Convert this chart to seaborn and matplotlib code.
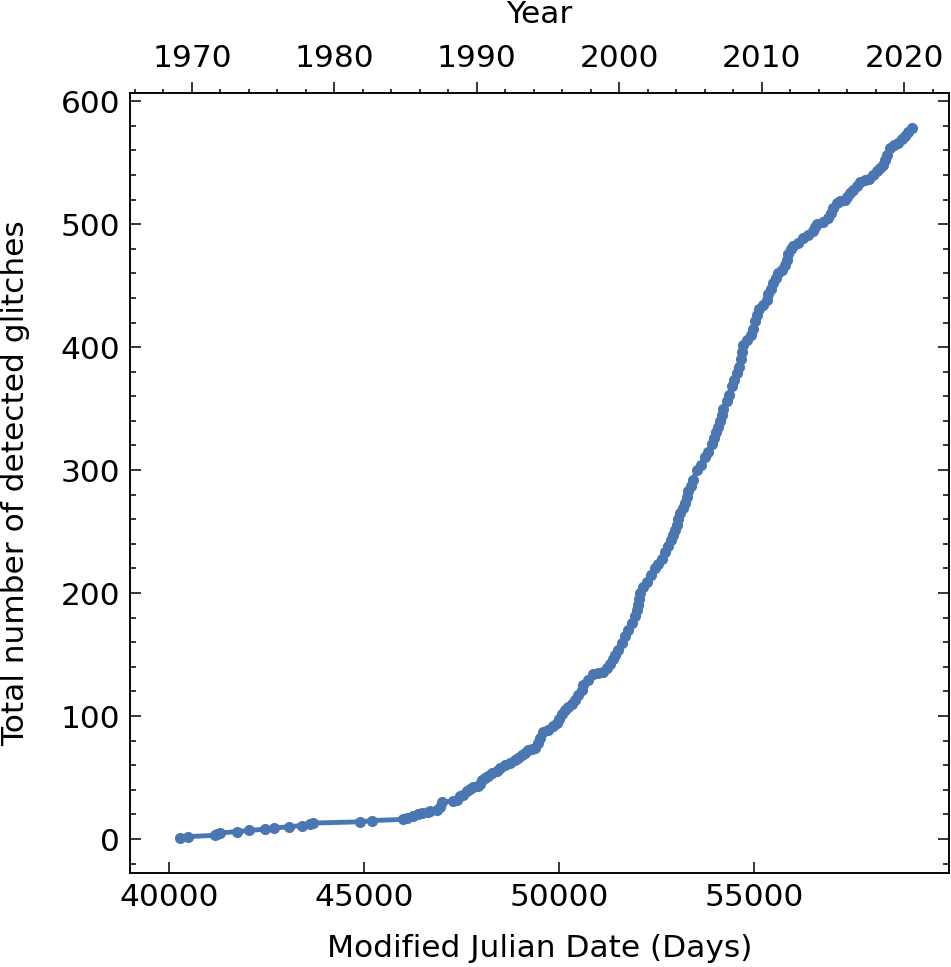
import numpy as np
import pandas as pd
import matplotlib
matplotlib.use("Agg")
import matplotlib.pyplot as plt
from matplotlib.ticker import MultipleLocator
import seaborn as sns

# Glitch epochs (MJD) and cumulative count
mjd = [40282, 40495, 41179, 41239, 41308, 41735, 42051, 42462, 42692, 43085,
       43402, 43615, 43701, 44897, 45213, 45992, 46094, 46264, 46393, 46479,
       46650, 46692, 46863, 46949, 46991, 47291, 47376, 47461, 47547, 47632,
       47718, 47803, 47931, 47974, 48018, 48103, 48188, 48273, 48402, 48487,
       48615, 48744, 48872, 48957, 49043, 49128, 49214, 49299, 49385, 49470,
       49513, 49598, 49726, 49855, 49940, 50008, 50068, 50154, 50239, 50325,
       50410, 50496, 50581, 50624, 50752, 50881, 51009, 51137, 51222, 51308,
       51376, 51436, 51521, 51607, 51692, 51778, 51863, 51949, 52009, 52034,
       52060, 52077, 52163, 52248, 52351, 52462, 52547, 52633, 52718, 52804,
       52872, 52932, 52975, 53017, 53060, 53103, 53171, 53231, 53274, 53316,
       53376, 53444, 53530, 53633, 53744, 53829, 53915, 53975, 54026, 54086,
       54128, 54171, 54214, 54299, 54368, 54428, 54487, 54556, 54624, 54658,
       54693, 54727, 54829, 54915, 54983, 55026, 55069, 55137, 55240, 55325,
       55368, 55427, 55496, 55564, 55624, 55709, 55795, 55838, 55880, 55940,
       56009, 56137, 56265, 56393, 56504, 56564, 56624, 56778, 56906, 56966,
       57034, 57120, 57205, 57333, 57393, 57462, 57547, 57632, 57718, 57846,
       57957, 58060, 58145, 58231, 58299, 58359, 58419, 58487, 58590, 58701,
       58786, 58872, 58957, 59043]
count = [1, 2, 3, 4, 5, 6, 7, 8, 9, 10,
         11, 12, 13, 14, 15, 16, 17, 19, 20, 21,
         22, 23, 24, 26, 30, 31, 32, 35, 36, 39,
         41, 42, 43, 45, 48, 50, 51, 54, 55, 58,
         60, 62, 64, 66, 68, 70, 72, 73, 74, 78,
         82, 87, 89, 92, 94, 98, 102, 105, 107, 110,
         113, 117, 121, 125, 129, 134, 135, 136, 139, 142,
         146, 150, 154, 159, 165, 170, 176, 181, 186, 190,
         195, 200, 205, 209, 215, 220, 224, 228, 233, 238,
         243, 247, 251, 255, 260, 265, 269, 273, 278, 283,
         287, 292, 300, 304, 311, 315, 321, 326, 331, 335,
         340, 345, 350, 356, 361, 368, 373, 379, 384, 390,
         396, 402, 406, 410, 415, 421, 426, 431, 434, 438,
         443, 447, 452, 456, 460, 463, 467, 471, 476, 480,
         482, 485, 489, 491, 494, 498, 500, 502, 505, 509,
         513, 517, 519, 520, 522, 525, 528, 531, 534, 536,
         537, 540, 543, 546, 548, 552, 556, 562, 564, 566,
         569, 572, 575, 578]

year_ticks = [1970, 1980, 1990, 2000, 2010, 2020]
mjd_ticks = [40000, 45000, 50000, 55000]

df = pd.DataFrame({"MJD": mjd, "N": count})

sns.set_style("ticks")
plt.rcParams["font.family"] = ["DejaVu Sans"]
plt.rcParams["font.size"] = 22.5
for k in ["text.color", "axes.labelcolor", "xtick.color", "ytick.color",
          "axes.edgecolor", "xtick.labelcolor", "ytick.labelcolor"]:
    plt.rcParams[k] = "black"

fig = plt.figure(figsize=(9.51, 9.67), dpi=100)
ax = fig.add_axes([130/951, 1-873.3/967, (949-130)/951, (873.3-92.7)/967])

color = "#4a76b2"
sns.lineplot(data=df, x="MJD", y="N", ax=ax, color=color, linewidth=3.5,
             marker="o", markersize=8, markeredgewidth=0, estimator=None,
             sort=False)

ax.set_xlim(39000, 60000)
ax.set_xticks(mjd_ticks)
ax.yaxis.set_major_locator(MultipleLocator(100))
ax.yaxis.set_minor_locator(MultipleLocator(20))
ax.tick_params(axis="both", which="both", direction="in", top=False,
               right=True, labelsize=22.5, pad=7, width=1.1, colors="black")
ax.tick_params(which="major", length=8)
ax.tick_params(which="minor", length=4.5)
ax.set_xlabel("Modified Julian Date (Days)", fontsize=22.5, labelpad=16)
ax.set_ylabel("Total number of detected glitches", fontsize=22.5, labelpad=22)
for s in ax.spines.values():
    s.set_visible(True)
    s.set_linewidth(1.1)
    s.set_color("black")

# Top axis in calendar years
ax2 = ax.twiny()
def mjd2year(m):
    return 1858.877 + m / 365.25
lo, hi = ax.get_xlim()
ax2.set_xlim(mjd2year(lo), mjd2year(hi))
ax2.set_xticks(year_ticks)
ax2.xaxis.set_minor_locator(MultipleLocator(2))
ax2.tick_params(axis="x", which="both", direction="out", top=True,
                bottom=False, labelsize=22.5, pad=6, width=1.1, colors="black")
ax2.tick_params(axis="x", which="major", length=8)
ax2.tick_params(axis="x", which="minor", length=3.2)
ax2.set_xlabel("Year", fontsize=22.5, labelpad=15.5)
for s in ax2.spines.values():
    s.set_linewidth(1.1)
    s.set_color("black")

fig.savefig("out.png", dpi=100)
